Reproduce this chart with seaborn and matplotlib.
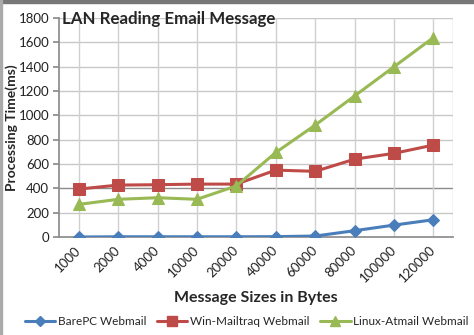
import matplotlib
matplotlib.use("Agg")
import matplotlib.pyplot as plt
import matplotlib.transforms as mtransforms
import seaborn as sns
import pandas as pd
import numpy as np
from matplotlib.lines import Line2D

sizes = ["1000", "2000", "4000", "10000", "20000", "40000", "60000", "80000", "100000", "120000"]
barepc = [0, 2, 2, 2, 2, 3, 8, 52, 98, 142]
mailtraq = [394, 427, 430, 435, 435, 550, 540, 640, 688, 756]
atmail = [268, 310, 323, 310, 420, 695, 920, 1160, 1400, 1640]
series_names = ["BarePC Webmail", "Win-Mailtraq Webmail", "Linux-Atmail Webmail"]
yticks = [0, 200, 400, 600, 800, 1000, 1200, 1400, 1600, 1800]

df = pd.DataFrame({
    "size": sizes * 3,
    "time": barepc + mailtraq + atmail,
    "series": [series_names[0]] * 10 + [series_names[1]] * 10 + [series_names[2]] * 10,
})

sns.set_theme(style="white")
plt.rcParams['font.family'] = ['Lato', 'DejaVu Sans']

colors = ["#4A7EBB", "#BE4B48", "#98B954"]
markers = ["D", "s", "^"]
msizes = [6, 8, 8]

fig = plt.figure(figsize=(4.74, 3.35), dpi=100)
ax = fig.add_axes([0.1245, 0.2925, 0.8315, 0.6535])

for i, name in enumerate(series_names):
    sub = df[df.series == name]
    sns.lineplot(data=sub, x="size", y="time", ax=ax, color=colors[i], marker=markers[i],
                 markersize=msizes[i], markeredgecolor=colors[i], linewidth=2.2,
                 sort=False, legend=False, zorder=3 + i)

ax.set_xlim(-0.5, len(sizes) - 0.5)
ax.set_ylim(0, 1800)
ax.set_yticks(yticks)
ax.set_yticklabels([str(v) for v in yticks], fontsize=9.5, color="#222222")
ax.set_xticks(range(len(sizes)))
ax.set_xticklabels(sizes, rotation=45, fontsize=9.5, color="#222222", ha="right", va="center",
                   rotation_mode="anchor")
offset = mtransforms.ScaledTranslation(7 / 100, -10 / 100, fig.dpi_scale_trans)
for lbl in ax.get_xticklabels():
    lbl.set_transform(lbl.get_transform() + offset)

# grid
for v in yticks[1:]:
    ax.axhline(v, color="#8c8c8c" if v == 400 else "#c8c8c8", lw=1.0, zorder=1)
for k in range(len(sizes)):
    ax.axvline(k, color="#d0d0d0", lw=1.0, zorder=1)
ax.axvline(len(sizes) - 0.5, color="#d0d0d0", lw=1.0, zorder=1)

for s in ["top", "right"]:
    ax.spines[s].set_visible(False)
ax.spines["left"].set_color("#8c8c8c")
ax.spines["bottom"].set_color("#8c8c8c")
ax.tick_params(axis="y", left=True, length=4, color="#8c8c8c", pad=3)
ax.tick_params(axis="x", bottom=False, pad=2)
ax.set_xlabel("Message Sizes in Bytes", fontsize=11.5, fontweight="bold")
ax.xaxis.set_label_coords(0.5, -0.245)
ax.set_ylabel("Processing Time(ms)", fontsize=10, fontweight="bold")
ax.yaxis.set_label_coords(-0.103, 0.5)

ax.text(0.008, 0.995, "LAN Reading Email Message", transform=ax.transAxes, fontsize=12.2,
        fontweight="bold", ha="left", va="center", zorder=10)

handles = [Line2D([0], [0], color=colors[i], marker=markers[i], markersize=msizes[i] - 1,
                  lw=2.2) for i in range(3)]
fig.legend(handles, series_names, loc="lower center", bbox_to_anchor=(0.52, -0.008), ncol=3,
           frameon=False, fontsize=8.5, handlelength=2.6, columnspacing=0.9, handletextpad=0.2)

# outer border
fig.patches.append(plt.Rectangle((0, 0.991), 1, 0.009, transform=fig.transFigure,
                                 color="#777777", zorder=0))
fig.patches.append(plt.Rectangle((0, 0), 0.004, 1, transform=fig.transFigure,
                                 color="#aaaaaa", zorder=0))

fig.savefig("out.png", dpi=100)
